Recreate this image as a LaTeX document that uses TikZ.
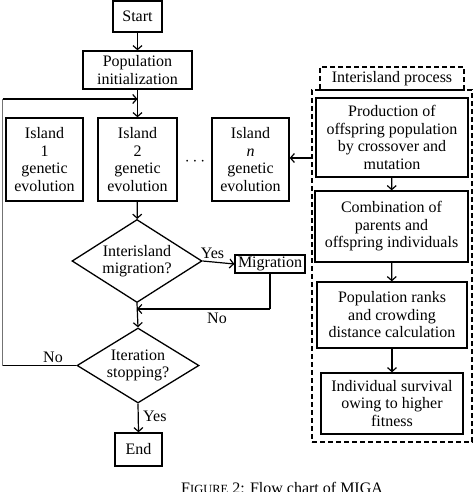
\documentclass[tikz,border=0pt]{standalone}
\usepackage{fontspec}
\setmainfont{Liberation Serif}
\usetikzlibrary{arrows.meta,shapes.geometric}
\newcommand{\fsz}{\fontsize{16}{17.5}\selectfont}
\begin{document}
\begin{tikzpicture}[x=1pt,y=-1pt,
  box/.style={draw, line width=1.3pt, inner sep=0pt, align=center, font=\fsz},
  dbox/.style={draw, line width=1.3pt, dash pattern=on 5pt off 3pt, inner sep=0pt, align=center, font=\fsz},
  dec/.style={draw, diamond, line width=1.3pt, inner sep=0pt, align=center, font=\fsz},
  lbl/.style={inner sep=0pt, font=\fsz},
  arr/.style={-{Straight Barb[length=4pt,width=9pt]}, line width=1.2pt},
  ln/.style={line width=1.2pt}]
\useasboundingbox (0,0) rectangle (474,492);

% main column
\node[box, minimum width=49pt, minimum height=31pt] (start) at (137.5,16.5) {Start};
\node[box, minimum width=109pt, minimum height=38pt] (pop) at (137.5,70) {Population\\initialization};
\node[box, minimum width=77pt, minimum height=83pt] (isl1) at (44.5,159.5) {Island\\1\\genetic\\evolution};
\node[box, minimum width=79pt, minimum height=83pt] (isl2) at (137.5,159.5) {Island\\2\\genetic\\evolution};
\node[box, minimum width=77pt, minimum height=83pt] (isln) at (250.5,159.5) {Island\\\textit{n}\\genetic\\evolution};
\node[lbl] (dots) at (195,162) {$\cdots$};
\node[dec, minimum width=130pt, minimum height=83pt, aspect=1.57] (d1) at (137,261) {Interisland\\migration?};
\node[box, minimum width=70pt, minimum height=18pt] (mig) at (270,264) {Migration};
\node[dec, minimum width=122pt, minimum height=75pt, aspect=1.63] (d2) at (138,365.5) {Iteration\\stopping?};
\node[box, minimum width=47pt, minimum height=33pt] (end) at (138.5,449.5) {End};

% labels
\node[lbl] (yes1) at (212.5,253) {Yes};
\node[lbl] (no1) at (217,318.5) {No};
\node[lbl] (no2) at (53,357) {No};
\node[lbl, anchor=west] (yes2) at (143,416) {Yes};

% interisland process
\node[dbox, minimum width=144pt, minimum height=23pt] (iplbl) at (392,78.5) {Interisland process};
\node[dbox, minimum width=160pt, minimum height=352pt] (outer) at (392,266) {};
\node[box, minimum width=152pt, minimum height=79pt] (b1) at (392,137.5) {Production of\\offspring population\\by crossover and\\mutation};
\node[box, minimum width=153pt, minimum height=71pt] (b2) at (391.5,226.5) {Combination of\\parents and\\offspring individuals};
\node[box, minimum width=150pt, minimum height=66pt] (b3) at (392,315) {Population ranks\\and crowding\\distance calculation};
\node[box, minimum width=142pt, minimum height=61pt] (b4) at (392,403.5) {Individual survival\\owing to higher\\fitness};

% coordinates
\coordinate (ret) at (d1.south |- 0,309);
\coordinate (migc) at (mig.south |- 0,309);
\coordinate (loopin) at (pop.south |- 0,99);
\coordinate (lbot) at (2.5,365.5);
\coordinate (ltop) at (2.5,99);
\coordinate (outl) at (outer.west |- 0,158);
\coordinate (islnr) at (isln.east |- 0,158);

% connectors
\draw[arr] (start) -- (pop);
\draw[arr] (pop) -- (isl2);
\draw[arr] (isl2) -- (d1);
\draw[arr] (d1.east) -- (mig.west);
\draw[ln] (mig.south) -- (migc);
\draw[arr] (migc) -- (ret);
\draw[arr] (d1.south) -- (d2.north);
\draw[arr] (d2.south) -- (end.north);
\draw[ln] (d2.west) -- (lbot);
\draw[line width=1.6pt, black!55] (lbot) -- (ltop);
\draw[arr] (ltop) -- (loopin);
\draw[arr] (outl) -- (islnr);
\draw[arr] (b1) -- (b2);
\draw[arr] (b2) -- (b3);
\draw[arr] (b3) -- (b4);

% caption (cut off at the bottom, as in the reference)
\node[lbl, anchor=base west] (cap) at (181,493) {F{\fontsize{12.5}{12.5}\selectfont IGURE} 2: Flow chart of MIGA};
\end{tikzpicture}
\end{document}
